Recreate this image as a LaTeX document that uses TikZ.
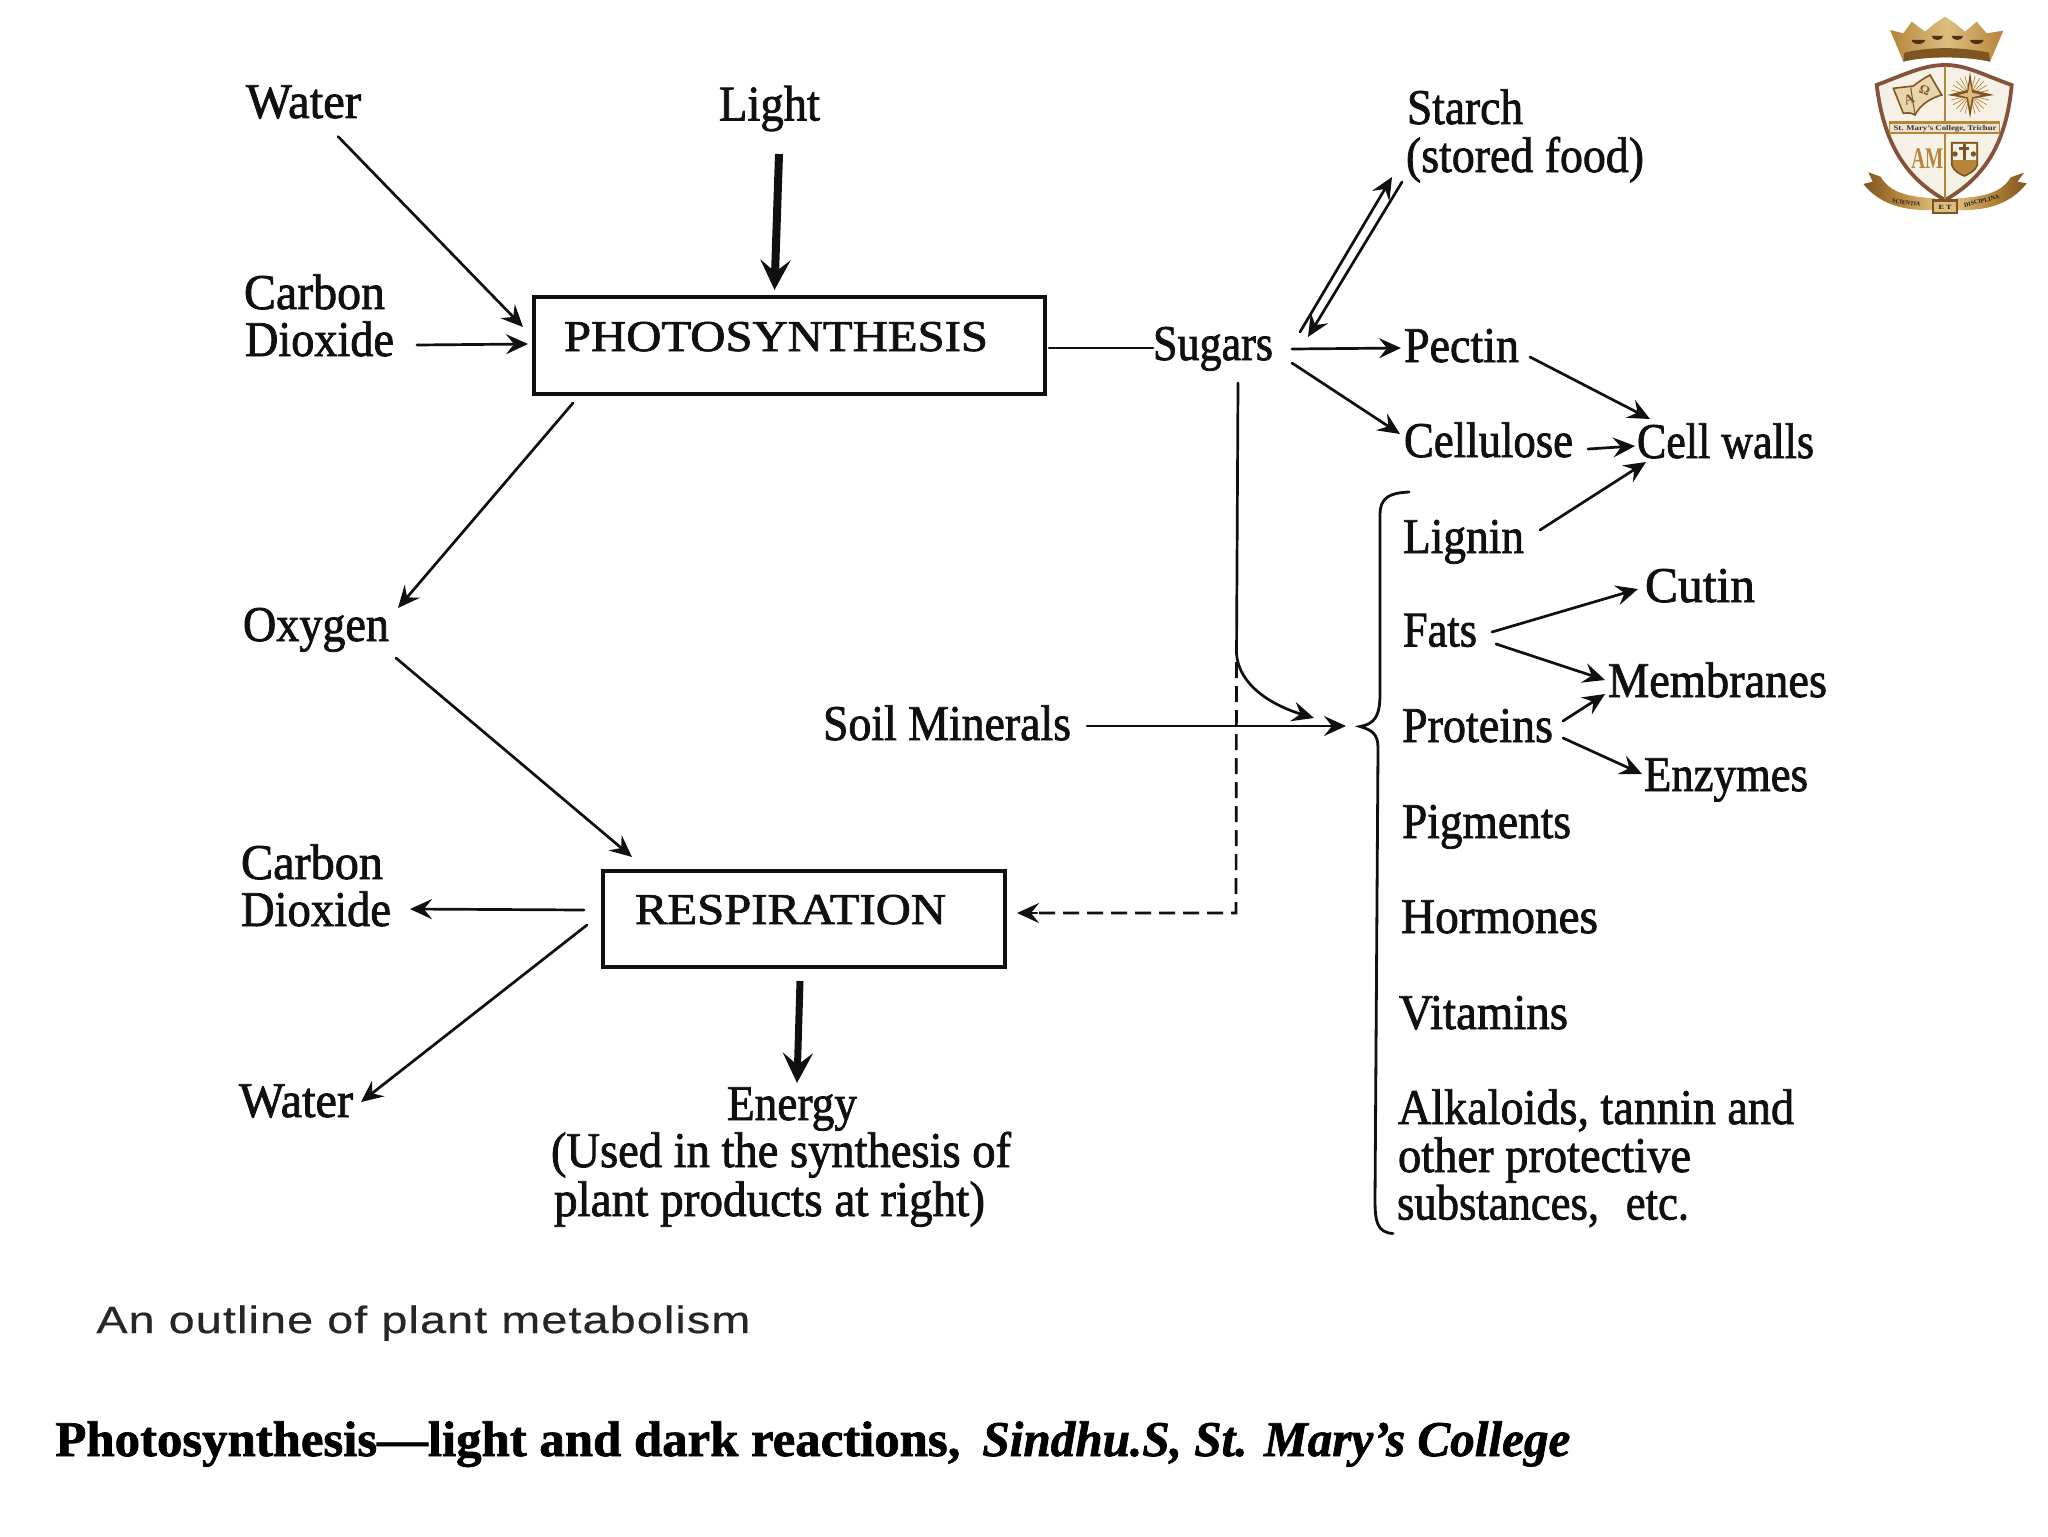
\documentclass[tikz,border=0pt]{standalone}
\usepackage{fontspec}
\usetikzlibrary{arrows.meta}
\setmainfont{Liberation Serif}[BoldFont={Liberation Serif},BoldFeatures={FakeBold=1.6}]
\newfontfamily\capf{Liberation Sans}[LetterSpace=2.5,FakeBold=0.4]
\newfontfamily\footf{Liberation Serif Bold}[FakeBold=1.4]
\newfontfamily\footi{Liberation Serif Bold Italic}[FakeBold=1.4]
\newfontfamily\logof{Liberation Serif Bold}
% set text to a given width in px (1 px = 0.5pt) by horizontal scaling
\newcommand\fitw[2]{\sbox0{#2}\pgfmathsetmacro\myratio{#1*0.5/\the\wd0}\scalebox{\myratio}[1]{\usebox0}}
\definecolor{ink}{HTML}{101010}
\definecolor{gold}{HTML}{B5853A}
\definecolor{golddark}{HTML}{7E5420}
\definecolor{goldlight}{HTML}{DDBE80}
\definecolor{cream}{HTML}{F6F1E6}
\definecolor{shieldedge}{HTML}{85523A}
\tikzset{
 lab/.style={anchor=base west,inner sep=0pt,outer sep=0pt,text=ink,font=\fontsize{25}{25}\selectfont\bfseries},
 boxlab/.style={lab,font=\fontsize{22}{22}\selectfont\bfseries},
 procbox/.style={draw=ink,line width=1.6pt,inner sep=0pt,outer sep=0pt,fill=white,anchor=north west},
 arr/.style={draw=ink,line width=1.35pt,line cap=round,-{Stealth[length=11pt,width=10pt,inset=4pt]}},
 fatarr/.style={draw=ink,line width=4pt,-{Stealth[length=15pt,width=15pt,inset=6pt]}},
 plainline/.style={draw=ink,line width=1.35pt,line cap=round},
 dashline/.style={draw=ink,line width=1.35pt,dash pattern=on 8pt off 4pt},
 lg/.style={inner sep=0pt,outer sep=0pt}
}
\begin{document}
\begin{tikzpicture}[x=0.5pt,y=-0.5pt]
\useasboundingbox (0,0) rectangle (2048,1536);
\fill[white] (0,0) rectangle (2048,1536);

% boxes
\node[procbox,minimum width=255.5pt,minimum height=48.5pt] (photo) at (534,297) {};
\node[procbox,minimum width=201pt,minimum height=48pt] (resp) at (603,871) {};
\node[boxlab] (photot) at (564,351) {\fitw{424}{PHOTOSYNTHESIS}};
\node[boxlab] (respt) at (635,924) {\fitw{311}{RESPIRATION}};

% labels, left
\node[lab] (water) at (246,118) {\fitw{115}{Water}};
\node[lab] (light) at (719,120.5) {\fitw{101}{Light}};
\node[lab] (carbon) at (244,309) {\fitw{141}{Carbon}};
\node[lab] (dioxide) at (245,356) {\fitw{149}{Dioxide}};
\node[lab] (oxygen) at (243,641) {\fitw{146}{Oxygen}};
\node[lab] (carbonb) at (241,879) {\fitw{142}{Carbon}};
\node[lab] (dioxideb) at (241,926) {\fitw{150}{Dioxide}};
\node[lab] (waterb) at (239,1117) {\fitw{114}{Water}};
\node[lab] (energy) at (727,1120) {\fitw{130}{Energy}};
\node[lab] (used) at (551,1167) {\fitw{460}{(Used in the synthesis of}};
\node[lab] (plant) at (554,1216) {\fitw{431}{plant products at right)}};
\node[lab] (soil) at (823,740) {\fitw{248}{Soil Minerals}};

% labels, right
\node[lab] (sugars) at (1153,360) {\fitw{120}{Sugars}};
\node[lab] (starch) at (1407,124) {\fitw{116}{Starch}};
\node[lab] (stored) at (1406,172) {\fitw{238}{(stored food)}};
\node[lab] (pectin) at (1404,362) {\fitw{115}{Pectin}};
\node[lab] (cellulose) at (1404,457) {\fitw{169}{Cellulose}};
\node[lab] (cellwalls) at (1637,458) {\fitw{177}{Cell walls}};
\node[lab] (lignin) at (1403,553) {\fitw{121}{Lignin}};
\node[lab] (cutin) at (1645,602) {\fitw{110}{Cutin}};
\node[lab] (fats) at (1403,646.5) {\fitw{74}{Fats}};
\node[lab] (membranes) at (1608,697) {\fitw{219}{Membranes}};
\node[lab] (proteins) at (1402,742) {\fitw{151}{Proteins}};
\node[lab] (enzymes) at (1644,791) {\fitw{164}{Enzymes}};
\node[lab] (pigments) at (1402,838) {\fitw{169}{Pigments}};
\node[lab] (hormones) at (1401,933) {\fitw{197}{Hormones}};
\node[lab] (vitamins) at (1399,1029) {\fitw{169}{Vitamins}};
\node[lab] (alk) at (1398,1124) {\fitw{396}{Alkaloids, tannin and}};
\node[lab] (other) at (1398,1172) {\fitw{293}{other protective}};
\node[lab] (subs) at (1397,1219.5) {\fitw{292}{substances,\hspace{0.35em} etc.}};

% caption and footer
\node[anchor=base west,inner sep=0pt,text=black!85,font=\capf\fontsize{19}{19}\selectfont] (caption) at (96,1333) {\fitw{654}{An outline of plant metabolism}};
\node[anchor=base west,inner sep=0pt,text=black,font=\footf\fontsize{25}{25}\selectfont] (foot) at (55,1456) {\fitw{905}{Photosynthesis—light and dark reactions,}};
\node[anchor=base west,inner sep=0pt,text=black,font=\footi\fontsize{25}{25}\selectfont] (footb) at (982,1456) {\fitw{588}{Sindhu.S, St. Mary’s College}};

% connectors
\draw[arr] ([shift={(92,18.5)}]water.base west) -- ([shift={(-11,30)}]photo.north west);
\draw[arr] ([shift={(172,-11)}]dioxide.base west) -- ([shift={(-6,47)}]photo.north west);
\draw[fatarr] ([shift={(60,33.5)}]light.base west) -- ([shift={(240.5,-7)}]photo.north west);
\draw[arr] ([shift={(39,9)}]photo.south west) -- ([shift={(155,-33)}]oxygen.base west);
\draw[arr] ([shift={(153,17)}]oxygen.base west) -- ([shift={(29,-14)}]resp.north west);
\draw[arr] ([shift={(-19,39)}]resp.north west) -- ([shift={(169,-17)}]dioxideb.base west);
\draw[arr] ([shift={(-16,54)}]resp.north west) -- ([shift={(122,-15)}]waterb.base west);
\draw[fatarr,line width=3.5pt] ([shift={(197,14)}]resp.south west) -- ([shift={(70,-37)}]energy.base west);
\draw[plainline] ([shift={(4,-46)}]photo.south east) -- ([shift={(0,-12)}]sugars.base west);
% Sugars - Starch pair
\draw[arr] ([shift={(147,-28)}]sugars.base west) -- ([shift={(-14,5)}]stored.base west);
\draw[arr] ([shift={(-4,10)}]stored.base west) -- ([shift={(155,-23)}]sugars.base west);
\draw[arr] ([shift={(139,-11)}]sugars.base west) -- ([shift={(-3,-14)}]pectin.base west);
\draw[arr] ([shift={(139,3)}]sugars.base west) -- ([shift={(-4,-23)}]cellulose.base west);
\draw[arr] ([shift={(126,-5)}]pectin.base west) -- ([shift={(13,-39)}]cellwalls.base west);
\draw[arr] ([shift={(184,-8)}]cellulose.base west) -- ([shift={(-2,-12)}]cellwalls.base west);
\draw[arr] ([shift={(137,-23)}]lignin.base west) -- ([shift={(9,4)}]cellwalls.base west);
\draw[arr] ([shift={(89,-14.5)}]fats.base west) -- ([shift={(-7,-13)}]cutin.base west);
\draw[arr] ([shift={(93,-2.5)}]fats.base west) -- ([shift={(-3,-17)}]membranes.base west);
\draw[arr] ([shift={(161,-21)}]proteins.base west) -- ([shift={(-3,-3)}]membranes.base west);
\draw[arr] ([shift={(161,-4)}]proteins.base west) -- ([shift={(-2,-17)}]enzymes.base west);
\draw[arr] ([shift={(264,-14)}]soil.base west) -- ([shift={(-56,-16)}]proteins.base west);
% Sugars down and over to the bracket
\draw[arr] ([shift={(85,23)}]sugars.base west) -- ([shift={(83.5,294)}]sugars.base west) .. controls ([shift={(86,325)}]sugars.base west) and ([shift={(118,345)}]sugars.base west) .. ([shift={(-88,-24)}]proteins.base west);
% Dashed return to respiration
\coordinate (dashcorner) at ([shift={(83,553)}]sugars.base west);
\draw[dashline] ([shift={(83.5,302)}]sugars.base west) -- (dashcorner) -- ([shift={(32,42)}]resp.north east);
\draw[arr] ([shift={(32,42)}]resp.north east) -- ([shift={(12,42)}]resp.north east);
% Bracket
\draw[draw=ink,line width=1.4pt,line cap=round] ([shift={(6,-61)}]lignin.base west) .. controls ([shift={(-13,-60)}]lignin.base west) and ([shift={(-23,-56)}]lignin.base west) .. ([shift={(-23,-38)}]lignin.base west)
 -- ([shift={(-22,-48)}]proteins.base west) .. controls ([shift={(-22,-25)}]proteins.base west) and ([shift={(-28,-18)}]proteins.base west) .. ([shift={(-42,-15.5)}]proteins.base west)
 .. controls ([shift={(-30,-12)}]proteins.base west) and ([shift={(-24,-8)}]proteins.base west) .. ([shift={(-24,6)}]proteins.base west)
 -- ([shift={(-22,-20)}]subs.base west) .. controls ([shift={(-22,2)}]subs.base west) and ([shift={(-20,13)}]subs.base west) .. ([shift={(-4,14)}]subs.base west);

% Crest
\begin{scope}[shift={(1840,0)}]
\begin{scope}[x=0.16667pt,y=-0.16667pt]
 % ribbon
 \shade[left color=golddark,right color=goldlight,middle color=gold] (85,517) -- (122,530) .. controls (150,578) and (200,590) .. (285,595) -- (285,630) .. controls (190,634) and (118,612) .. (70,552) -- (98,545) -- cycle;
 \shade[left color=goldlight,right color=golddark,middle color=gold] (552,518) -- (512,532) .. controls (485,578) and (430,592) .. (345,595) -- (345,630) .. controls (440,634) and (512,612) .. (560,550) -- (532,545) -- cycle;
 % shield
 \draw[draw=shieldedge,line width=1.9pt,fill=cream] (315,195) .. controls (380,195) and (430,225) .. (515,255) .. controls (500,420) and (440,530) .. (315,600) .. controls (190,530) and (130,420) .. (110,255) .. controls (190,225) and (250,195) .. (315,195) -- cycle;
 \fill[gold] (311,198) rectangle (319,596);
 \fill[gold] (147,363) rectangle (480,402);
 \fill[cream!85!gold] (150,371) rectangle (477,395);
 % book
 \draw[draw=golddark,line width=0.8pt,fill=goldlight!55!cream] (160,265) -- (220,258) .. controls (230,250) and (250,235) .. (270,225) -- (305,285) .. controls (270,295) and (240,315) .. (225,345) .. controls (210,335) and (195,340) .. (190,340) -- cycle;
 \draw[draw=golddark,line width=0.5pt] (212,262) -- (225,345);
 \node[lg,text=golddark,rotate=20,font=\logof\fontsize{7}{7}\selectfont] (alpha) at (207,298) {A};
 \node[lg,text=golddark,rotate=-20,font=\logof\fontsize{6.5}{6.5}\selectfont] (omega) at (254,272) {Ω};
 % star
 \foreach \a in {0,15,...,345} {\draw[draw=gold,line width=0.35pt] (390,285) -- ++(\a:58);}
 \fill[golddark] (390,215) -- (398,270) -- (462,285) -- (400,295) -- (390,355) -- (380,295) -- (322,285) -- (382,270) -- cycle;
 \fill[goldlight] (390,245) -- (396,278) -- (425,285) -- (396,292) -- (390,325) -- (384,292) -- (355,285) -- (384,278) -- cycle;
 % monogram
 \node[lg,text=gold,font=\logof\fontsize{15}{15}\selectfont] (mono) at (262,475) {\fitw{32}{AM}};
 % little shield
 \draw[draw=golddark,line width=0.8pt,fill=gold] (335,428) -- (412,428) -- (412,495) .. controls (405,515) and (385,522) .. (373,528) .. controls (360,522) and (342,515) .. (335,495) -- cycle;
 \fill[cream] (340,433) rectangle (407,480);
 \draw[draw=golddark,line width=1.2pt] (373,433) -- (373,480) (358,445) -- (388,445);
 \fill[golddark] (345,462) circle (8) (400,462) circle (8);
 % crown
 \shade[left color=gold,right color=gold,middle color=goldlight] (150,90) -- (190,100) -- (215,65) -- (255,95) -- (285,70) -- (315,50) -- (345,70) -- (375,95) -- (410,65) -- (440,100) -- (490,92) -- (450,185) .. controls (380,168) and (250,168) .. (190,185) -- cycle;
 \fill[golddark] (193,158) .. controls (270,140) and (360,140) .. (447,158) -- (450,185) .. controls (380,168) and (250,168) .. (190,185) -- cycle;
 \fill[golddark!60!black] (215,120) arc (180:0:20 and 12) -- cycle (275,108) arc (180:0:17 and 12) -- cycle (335,108) arc (180:0:17 and 12) -- cycle (390,120) arc (180:0:20 and 12) -- cycle;
 % centre knot and texts
 \fill[golddark] (275,597) rectangle (355,642);
 \fill[goldlight] (282,605) rectangle (348,636);
 \node[lg,text=black!80,font=\logof\fontsize{3.6}{3.6}\selectfont] (logoname) at (315,387) {\fitw{103}{St. Mary’s College, Trichur}};
 \node[lg,text=black!90,rotate=-8,font=\logof\fontsize{3}{3}\selectfont] (motoa) at (199,608) {\fitw{28}{SCIENTIA}};
 \node[lg,text=black!90,font=\logof\fontsize{3.2}{3.2}\selectfont] (motob) at (315,622) {\fitw{13}{E T}};
 \node[lg,text=black!90,rotate=14,font=\logof\fontsize{3}{3}\selectfont] (motoc) at (425,603) {\fitw{36}{DISCIPLINA}};
\end{scope}
\end{scope}
\end{tikzpicture}
\end{document}
